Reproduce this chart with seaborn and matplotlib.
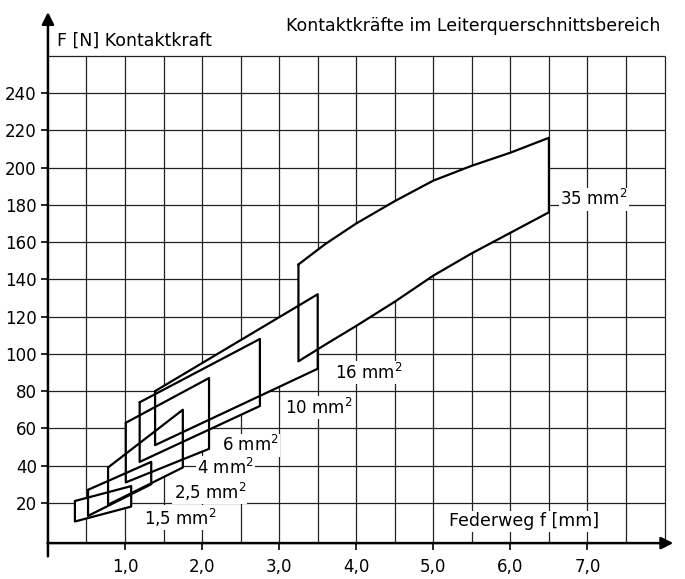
import matplotlib
matplotlib.use("Agg")
import matplotlib.pyplot as plt
import seaborn as sns
import numpy as np

sns.set_theme(style="white")
plt.rcParams['font.family'] = ['DejaVu Sans']
plt.rcParams['text.color'] = 'black'

# Polygons (Federweg f [mm], Kontaktkraft F [N])
p15_x = [0.35, 1.08, 1.08, 0.35]; p15_y = [21, 29, 18, 10]
p25_x = [0.52, 1.34, 1.34, 0.52]; p25_y = [27, 42, 30, 13]
p4_x = [0.78, 1.75, 1.75, 0.78]; p4_y = [39, 70, 39, 19]
p6_x = [1.01, 2.09, 2.09, 1.01]; p6_y = [63, 87, 49, 31]
p10_x = [1.19, 2.75, 2.75, 1.19]; p10_y = [74, 108, 72, 42]
p16_x = [1.39, 3.5, 3.5, 1.39]; p16_y = [80, 132, 92, 51]
p35_x = [3.25, 3.6, 4.0, 4.5, 5.0, 5.5, 6.0, 6.5, 6.5, 6.0, 5.5, 5.0, 4.5, 4.0, 3.6, 3.25]
p35_y = [148, 159, 170, 182, 193, 201, 208, 216, 176, 165, 154, 142, 128, 115, 105, 96]
polys = [(p15_x, p15_y), (p25_x, p25_y), (p4_x, p4_y), (p6_x, p6_y),
         (p10_x, p10_y), (p16_x, p16_y), (p35_x, p35_y)]
labels = ["1,5 mm$^2$", "2,5 mm$^2$", "4 mm$^2$", "6 mm$^2$", "10 mm$^2$", "16 mm$^2$", "35 mm$^2$"]
label_pos = [(1.24, 12), (1.63, 26), (1.94, 39), (2.26, 51), (3.08, 71), (3.73, 90), (6.65, 183)]
xticks = [1, 2, 3, 4, 5, 6, 7]
xticklabels = ["1,0", "2,0", "3,0", "4,0", "5,0", "6,0", "7,0"]
yticks = [20, 40, 60, 80, 100, 120, 140, 160, 180, 200, 220, 240]

fig = plt.figure(figsize=(6.85, 5.79), dpi=100)
ax = fig.add_axes([0.070, 0.062, 0.917, 0.922])
ax.set_xlim(0, 8.15)
ax.set_ylim(-1.6, 285)
for s in ax.spines.values():
    s.set_visible(False)

ax.hlines(np.arange(20, 261, 20), 0, 8.0, color='#222', lw=0.9, zorder=1)
ax.vlines(np.arange(0.5, 8.01, 0.5), -1.6, 260, color='#222', lw=0.9, zorder=1)

for (px, py) in polys:
    ax.fill(px, py, facecolor='white', edgecolor='none', zorder=2)
for (px, py) in polys:
    ax.plot(px + [px[0]], py + [py[0]], color='black', lw=1.6, zorder=4)

for lab, (lx, ly) in zip(labels, label_pos):
    ax.text(lx, ly, lab, fontsize=12, ha='left', va='center', zorder=5,
            bbox=dict(facecolor='white', edgecolor='none', pad=1))

ax.annotate('', xy=(1.0, 0.0), xycoords='axes fraction', xytext=(-0.005, 0.0),
            arrowprops=dict(arrowstyle='-|>', color='black', lw=1.8, mutation_scale=18))
ax.annotate('', xy=(0.0, 1.0), xycoords='axes fraction', xytext=(0.0, -0.03),
            arrowprops=dict(arrowstyle='-|>', color='black', lw=1.8, mutation_scale=18))

ax.set_xticks(xticks)
ax.set_xticklabels(xticklabels, fontsize=12)
ax.set_yticks(yticks)
ax.set_yticklabels([str(v) for v in yticks], fontsize=12)
ax.tick_params(axis='both', length=5, width=1.2, color='black', labelcolor='black', direction='out', pad=3)
ax.tick_params(axis='x', bottom=True, pad=6)
ax.tick_params(axis='y', left=True)

ax.text(0.12, 268, "F [N] Kontaktkraft", fontsize=12.5, ha='left', va='center')
ax.text(7.95, 276, "Kontaktkräfte im Leiterquerschnittsbereich", fontsize=12.5, ha='right', va='center')
ax.text(7.15, 10, "Federweg f [mm]", fontsize=12.5, ha='right', va='center', zorder=5,
        bbox=dict(facecolor='white', edgecolor='none', pad=1))

fig.savefig("out.png", dpi=100)
